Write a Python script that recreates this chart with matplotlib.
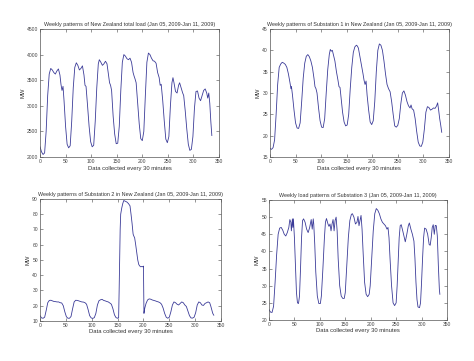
import matplotlib
matplotlib.use("Agg")
import matplotlib.pyplot as plt

plt.rcParams['font.family'] = ['Liberation Sans', 'DejaVu Sans']

# New Zealand total load
x_nz = [0, 3, 6, 9, 12, 15, 18, 21, 24, 27, 30, 33, 36, 39, 41, 43, 45, 47, 50, 53, 56, 59, 62, 65, 68, 71, 74, 77,
        80, 83, 86, 88, 90, 93, 96, 99, 102, 105, 108, 111, 114, 116, 119, 122, 125, 128, 131, 134, 136, 138, 140,
        143, 146, 149, 152, 155, 158, 161, 164, 167, 170, 173, 176, 179, 182, 184, 186, 188, 191, 194, 197, 200,
        203, 206, 209, 212, 215, 218, 221, 224, 227, 230, 233, 235, 237, 240, 243, 246, 249, 252, 255, 258, 260,
        262, 265, 268, 271, 273, 276, 279, 281, 284, 287, 290, 293, 296, 299, 302, 305, 308, 311, 314, 317, 320,
        323, 326, 328, 330, 332, 334, 336]
y_nz = [2200, 2100, 2050, 2080, 2500, 3200, 3620, 3730, 3700, 3650, 3620, 3680, 3720, 3600, 3420, 3300, 3380, 3100,
        2600, 2250, 2180, 2220, 2700, 3350, 3750, 3840, 3790, 3700, 3730, 3780, 3600, 3400, 3380, 3000, 2600, 2300,
        2200, 2230, 2700, 3350, 3820, 3900, 3850, 3790, 3820, 3870, 3820, 3600, 3450, 3400, 3300, 2800, 2450, 2260,
        2270, 2600, 3300, 3850, 4000, 3970, 3920, 3900, 3930, 3850, 3650, 3580, 3520, 3450, 3050, 2650, 2360, 2320,
        2500, 3200, 3850, 4030, 4000, 3930, 3880, 3870, 3830, 3650, 3550, 3400, 3420, 3100, 2700, 2350, 2280, 2400,
        3000, 3450, 3550, 3450, 3280, 3250, 3400, 3450, 3350, 3250, 3200, 2900, 2550, 2250, 2130, 2150, 2400, 2950,
        3280, 3290, 3150, 3100, 3200, 3300, 3330, 3250, 3150, 3250, 3050, 2700, 2420]

# Substation 1
x_s1 = [0, 3, 6, 9, 12, 15, 18, 21, 24, 27, 30, 33, 36, 39, 41, 42, 44, 47, 50, 53, 56, 59, 62, 65, 68, 71, 74, 77,
        80, 83, 86, 88, 90, 92, 95, 98, 101, 104, 107, 110, 113, 116, 118, 120, 122, 124, 127, 130, 133, 135, 137,
        139, 142, 145, 148, 151, 154, 157, 160, 163, 166, 169, 171, 173, 176, 179, 182, 184, 186, 188, 190, 193,
        196, 199, 202, 205, 208, 211, 214, 217, 220, 223, 226, 229, 232, 235, 238, 241, 244, 247, 250, 253, 256,
        259, 262, 265, 268, 271, 274, 276, 278, 281, 284, 287, 290, 293, 296, 299, 302, 305, 308, 311, 314, 317,
        320, 323, 326, 328, 330, 332, 334, 336]
y_s1 = [17, 16.8, 17.2, 19, 25, 32, 36, 36.8, 37.2, 37, 36.7, 36, 34.5, 32.5, 31, 31.5, 29.5, 26, 23, 21.8, 21.7, 23,
        28, 33.5, 37, 38.6, 39, 38.5, 37.5, 36, 33.5, 31.5, 31, 30, 26.5, 23.5, 22, 21.9, 24, 30, 35.5, 39, 40.2,
        39.8, 40, 39, 37.5, 35, 33, 31.5, 31.3, 29, 25.5, 23.2, 22.3, 22.5, 25, 31, 36, 39.5, 40.8, 41.2, 41, 40.5,
        38.5, 36.5, 34.5, 33, 32, 32.8, 29.5, 26, 23.2, 22.6, 23.5, 28, 35, 40, 41.5, 41.2, 40, 37.5, 34.5, 32, 31,
        30.3, 28, 25, 22.3, 22, 22.4, 24, 27.5, 30, 30.5, 29.5, 28, 27, 26.5, 27.2, 26.3, 26, 24, 21, 18.5, 17.6,
        17.5, 18.5, 21.5, 25.5, 26.8, 26.6, 26, 26.2, 26.5, 26.4, 27, 27.7, 26, 24, 22.5, 20.8]

# Substation 2
x_s2 = [0, 3, 6, 9, 12, 15, 18, 21, 24, 27, 30, 33, 36, 39, 42, 45, 48, 51, 54, 57, 60, 63, 66, 69, 72, 75, 78, 81,
        84, 87, 90, 93, 96, 99, 102, 105, 108, 111, 114, 117, 120, 123, 126, 129, 132, 135, 138, 141, 144, 147,
        150, 152, 153, 154, 155, 156, 158, 160, 162, 165, 168, 171, 174, 176, 178, 180, 181, 183, 185, 187, 189,
        191, 193, 195, 197, 199, 200, 201, 202, 203, 205, 208, 211, 214, 217, 220, 223, 226, 229, 232, 235, 238,
        241, 244, 247, 250, 253, 256, 259, 262, 265, 268, 271, 274, 277, 280, 283, 286, 289, 292, 295, 298, 301,
        304, 307, 310, 313, 316, 319, 322, 325, 328, 330, 332, 334, 336]
y_s2 = [13.5, 12, 11.8, 12.5, 17, 22, 23.5, 23.6, 23.2, 22.8, 22.7, 22.5, 22.5, 22, 21.8, 20, 16, 12.8, 11.8, 11.8,
        13, 18, 22.5, 23.6, 23.5, 23.2, 22.8, 22.5, 22.4, 22, 21, 17.5, 13.5, 12, 11.7, 12.2, 15, 20.5, 23.3, 23.9,
        24.2, 23.5, 23.2, 22.8, 22.5, 21.8, 21, 18, 14, 12.2, 11.8, 12.2, 30, 50, 70, 80, 84, 87, 89, 88.5, 88, 87,
        85.5, 80, 74, 67, 66, 64.5, 60, 55, 50, 47, 46, 45.5, 45.8, 45.5, 46, 15, 17.5, 19, 21.5, 23.8, 24.5, 24.3,
        23.8, 23.5, 23.2, 22.8, 22.5, 22, 21, 18.5, 15, 12.5, 11.8, 12.5, 16, 20.5, 22.5, 22, 21, 20.5, 21.5, 22.5,
        22, 20.5, 19.5, 16.5, 13.5, 12, 11.9, 12.5, 15.5, 20.5, 22.5, 22, 20.5, 20.2, 21.5, 22, 22.5, 22, 20, 17.5,
        15, 13.8]

# Substation 3
x_s3 = [0, 3, 6, 9, 12, 15, 18, 21, 24, 27, 30, 33, 36, 39, 41, 43, 44, 46, 47, 48, 50, 52, 54, 56, 58, 60, 62, 64,
        66, 68, 71, 74, 77, 80, 83, 85, 87, 88, 90, 92, 95, 98, 101, 103, 106, 109, 111, 113, 116, 118, 120, 122,
        124, 126, 128, 130, 132, 134, 136, 139, 142, 145, 148, 150, 153, 156, 159, 162, 164, 167, 170, 173, 175,
        177, 179, 181, 183, 185, 188, 191, 194, 197, 199, 202, 205, 208, 211, 214, 217, 220, 223, 226, 229, 232,
        234, 236, 238, 241, 244, 247, 250, 252, 254, 256, 258, 260, 263, 266, 268, 271, 274, 276, 279, 282, 285,
        287, 289, 291, 293, 296, 298, 300, 302, 304, 306, 309, 312, 315, 317, 319, 321, 323, 325, 327, 329, 331,
        333, 335, 336]
y_s3 = [23, 22.3, 22.2, 24, 31, 39, 45, 46.8, 47, 46.2, 45, 44.5, 45.5, 47, 49.3, 48.5, 46, 49.5, 47, 49.5, 44, 36,
        28, 25, 24.8, 27, 35, 44, 49, 49.5, 48.5, 46.5, 45.5, 47, 49.3, 46.5, 49.5, 48, 42, 34, 27, 24.8, 24.8, 27,
        35, 44, 48.5, 49.6, 48, 47.3, 48, 46, 48, 49.3, 46, 49, 50, 46, 38, 30, 27, 26.3, 26.3, 28, 36, 44, 49, 50.8,
        51, 50, 48, 48.5, 50.2, 47.5, 49, 50.5, 46.5, 40, 31, 27.5, 26.8, 27.5, 30, 38, 46, 51, 52.5, 52, 51, 49.5,
        48.5, 48, 47.5, 46.5, 47, 44, 38, 30, 25, 24.2, 25, 30, 37, 44, 47.5, 47.8, 46, 44, 42.8, 45, 47.5, 48.3,
        46.5, 45, 43, 38, 31, 26, 23.8, 23.6, 25, 31, 38, 44, 46.8, 46.5, 45, 42, 41.8, 44, 47, 47.8, 45, 47.6, 47.5,
        44.5, 36, 29, 27.5]

titles = ["Weekly patterns of New Zealand total load (Jan 05, 2009-Jan 11, 2009)",
          "Weekly patterns of Substation 1 in New Zealand (Jan 05, 2009-Jan 11, 2009)",
          "Weekly patterns of Substation 2 in New Zealand (Jan 05, 2009-Jan 11, 2009)",
          "Weekly load patterns of Substation 3 (Jan 05, 2009-Jan 11, 2009)"]
xs = [x_nz, x_s1, x_s2, x_s3]
ys = [y_nz, y_s1, y_s2, y_s3]
ylims = [(2000, 4500, 500), (15, 45, 5), (10, 90, 10), (20, 55, 5)]
boxes = [[0.0844, 0.565, 0.3776, 0.3547],
         [0.5696, 0.565, 0.3774, 0.3547],
         [0.0844, 0.1108, 0.3819, 0.338],
         [0.5675, 0.1136, 0.3755, 0.3324]]

fig = plt.figure(figsize=(4.74, 3.61), dpi=100)
for i in range(4):
    ax = fig.add_axes(boxes[i])
    ax.plot(xs[i], ys[i], color="#3b3b98", lw=0.6)
    lo, hi, st = ylims[i]
    ax.set_xlim(0, 350)
    ax.set_ylim(lo, hi)
    ax.set_xticks(range(0, 351, 50))
    ax.set_yticks(range(lo, hi + 1, st))
    ax.tick_params(direction="in", length=2, width=0.4, labelsize=3.6, pad=1.5,
                   top=True, right=True, colors="#444444")
    for s in ax.spines.values():
        s.set_linewidth(0.5)
        s.set_color("#555555")
    ax.set_title(titles[i], fontsize=3.9, pad=2, color="#333333")
    ax.set_xlabel("Data collected every 30 minutes", fontsize=4.2, labelpad=1, color="#333333")
    ax.set_ylabel("MW", fontsize=4.2, labelpad=1, color="#333333")

fig.savefig("out.png", dpi=100)
